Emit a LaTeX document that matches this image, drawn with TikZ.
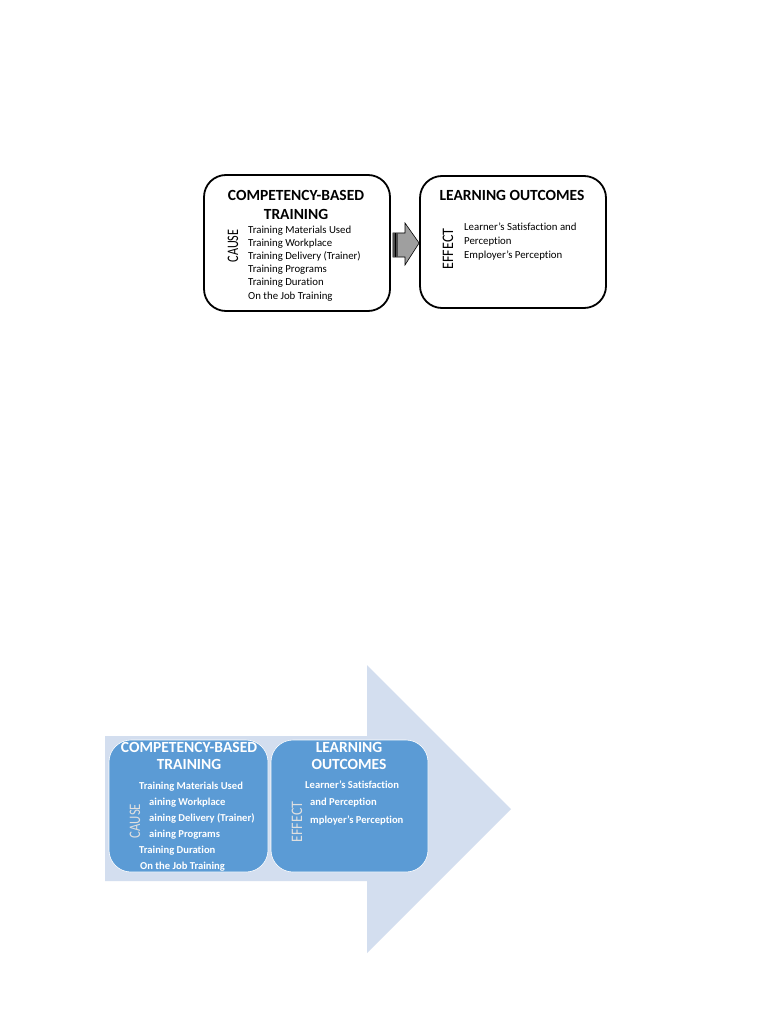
\documentclass[tikz,border=0pt]{standalone}
\usepackage{fontspec}
\setmainfont[Ligatures=NoCommon]{Carlito}
\usetikzlibrary{calc}
\definecolor{arrowblue}{HTML}{D3DEEF}
\definecolor{boxblue}{HTML}{5B9BD5}
\newcommand{\sidetext}[2]{\scalebox{#1}[1]{#2}}
\begin{document}
\begin{tikzpicture}[x=1pt,y=-1pt,
  framebox/.style={draw=black,line width=1.8pt,rounded corners=22pt,minimum width=#1,minimum height=132pt,inner sep=0pt},
  bluebox/.style={draw=white,line width=0.6pt,fill=boxblue,rounded corners=22pt,minimum width=#1,minimum height=132pt,inner sep=0pt},
  ttl/.style={font=\fontsize{15.5}{17}\selectfont\bfseries,inner sep=0pt,anchor=base},
  item/.style={font=\fontsize{10.8}{12}\selectfont,inner sep=0pt,anchor=base west},
  side/.style={font=\fontsize{16}{18}\selectfont,inner sep=0pt,rotate=90,anchor=center},
  wttl/.style={ttl,text=white},
  witem/.style={item,text=white,font=\fontsize{10.6}{12}\selectfont\bfseries},
  wside/.style={side,text=white!75!gray}]
\useasboundingbox (0,0) rectangle (768,1024);
\fill[white] (0,0) rectangle (768,1024);
% ---------- top diagram ----------
\node[framebox=186pt,minimum height=136pt] (cbt) at (297,243) {};
\node[framebox=186pt] (lo) at (513,242) {};
\node[ttl] (t1) at (296,201) {COMPETENCY-BASED};
\node[ttl] (t2) at (296,219) {TRAINING};
\node[item] (i1) at (248,233.5) {Training Materials Used};
\node[item] (i2) at (248,246.5) {Training Workplace};
\node[item] (i3) at (248,259.5) {Training Delivery (Trainer)};
\node[item] (i4) at (248,272.5) {Training Programs};
\node[item] (i5) at (248,285.5) {Training Duration};
\node[item] (i6) at (248,299) {On the Job Training};
\node[side] (cause) at (233,246) {\sidetext{0.76}{CAUSE}};
\node[ttl] (t3) at (512,201) {LEARNING OUTCOMES};
\node[item] (e1) at (464,230.5) {Learner’s Satisfaction and};
\node[item] (e2) at (464,244.5) {Perception};
\node[item] (e3) at (464,258.5) {Employer’s Perception};
\node[side] (effect) at (448,249) {\sidetext{0.88}{EFFECT}};
% small arrow between boxes
\coordinate (as) at ($(cbt.east)+(2,0)$);
\coordinate (ae) at ($(lo.west)+(0,1)$);
\fill[gray!75,draw=black,line width=0.6pt]
  (as|-0,233) -- (405,233) -- (405,223) -- (ae) -- (405,265) -- (405,257) -- (as|-0,257) -- cycle;
\fill[black!70] (393,233.5) rectangle (398,256.5);
\draw[black,line width=0.6pt] (395.5,233.5) -- (395.5,256.5);
% ---------- bottom diagram ----------
\fill[arrowblue] (105,736) -- (367,736) -- (367,665) -- (511,809) -- (367,953) -- (367,881) -- (105,881) -- cycle;
\node[bluebox=159pt] (bcbt) at (188.5,806) {};
\node[bluebox=157pt] (blo) at (349.5,806) {};
\node[wttl] (b1) at (189,752) {COMPETENCY-BASED};
\node[wttl] (b2) at (189,769) {TRAINING};
\node[witem] (bi1) at (139,789.5) {Training Materials Used};
\node[witem] (bi2) at (149,805.5) {aining Workplace};
\node[witem] (bi3) at (149,821.5) {aining Delivery (Trainer)};
\node[witem] (bi4) at (149,837.5) {aining Programs};
\node[witem] (bi5) at (139,853.5) {Training Duration};
\node[witem] (bi6) at (140,869.5) {On the Job Training};
\node[wside] (bcause) at (135,821) {\sidetext{0.8}{CAUSE}};
\node[wttl] (b3) at (349,752) {LEARNING};
\node[wttl] (b4) at (349,769) {OUTCOMES};
\node[witem] (be1) at (305,788.5) {Learner’s Satisfaction};
\node[witem] (be2) at (310,805.5) {and Perception};
\node[witem] (be3) at (310,823.5) {mployer’s Perception};
\node[wside] (beffect) at (297,822) {\sidetext{0.88}{EFFECT}};
\end{tikzpicture}
\end{document}
